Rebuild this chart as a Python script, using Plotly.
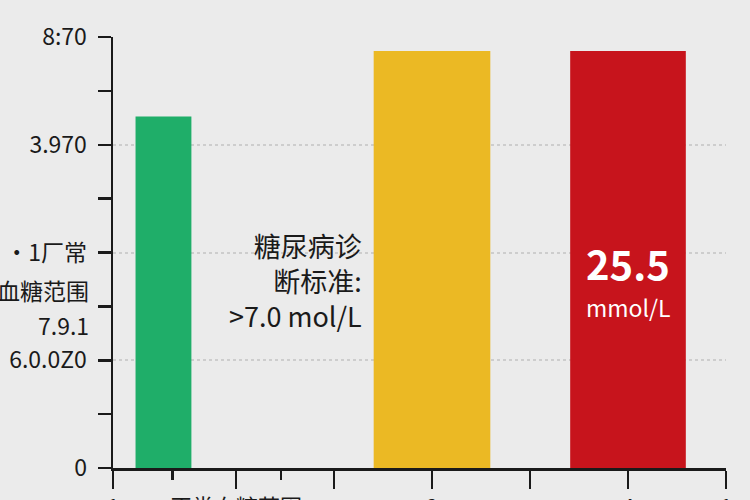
import plotly.graph_objects as go

# ---- data ----
bar_x = [-0.74, 2.0, 4.0]
bar_values = [21.5, 25.5, 25.5]
bar_widths = [0.57, 1.19, 1.18]
bar_colors = ["#1fae69", "#ebb924", "#c7141c"]

y_tick_labels = ["0", "6.0.0Z0", "·1厂常", "3.970", "8:70"]
x_tick_vals = [-1.255, 0, 1, 2, 3, 4, 5]
x_tick_labels = ["1", "正常血糖范围", "", "2", "", "4", "1"]
x_minor_vals = [-0.65, 0.46]

y_max = 25.5 * 431 / 417
y_major = [i * y_max / 4 for i in range(5)]
y_minor = [(i + 0.5) * y_max / 4 for i in range(4)]

font = "Noto Sans CJK SC, Noto Sans, sans-serif"

fig = go.Figure()
fig.add_trace(go.Bar(
    x=bar_x, y=bar_values, width=bar_widths,
    marker=dict(color=bar_colors, line=dict(width=0)),
    hoverinfo="skip",
))

fig.update_layout(
    width=750, height=500,
    margin=dict(l=113, r=24, t=37, b=32),
    paper_bgcolor="#ebebeb", plot_bgcolor="#ebebeb",
    showlegend=False,
    font=dict(family=font, color="#1a1a1a"),
    xaxis=dict(
        range=[-1.255, 5.0], automargin=False,
        tickmode="array", tickvals=x_tick_vals, ticktext=x_tick_labels,
        ticks="outside", ticklen=18, tickwidth=2.5, tickcolor="#1a1a1a",
        showline=True, linecolor="#1a1a1a", linewidth=2.5,
        showgrid=False, zeroline=False,
        tickfont=dict(size=22, family=font, color="#1a1a1a"),
        minor=dict(tickmode="array", tickvals=x_minor_vals, ticks="outside",
                   ticklen=9, tickwidth=2.5, tickcolor="#1a1a1a", showgrid=False),
    ),
    yaxis=dict(
        range=[0, y_max], automargin=False,
        tickmode="array", tickvals=y_major, ticktext=y_tick_labels,
        ticks="outside", ticklen=13, tickwidth=2.5, tickcolor="#1a1a1a",
        showline=True, linecolor="#1a1a1a", linewidth=2.5,
        showgrid=True, gridcolor="#cdcdcd", griddash="dot", gridwidth=2,
        zeroline=False, ticklabelstandoff=6,
        tickfont=dict(size=23, family=font, color="#1a1a1a"),
        minor=dict(tickmode="array", tickvals=y_minor, ticks="outside",
                   ticklen=13, tickwidth=2.5, tickcolor="#1a1a1a", showgrid=False),
    ),
)

# extra left-side labels
fig.add_annotation(xref="paper", yref="paper", x=-0.036, y=(468 - 290) / 431,
                   text="血糖范围", showarrow=False, xanchor="right", yanchor="middle",
                   font=dict(size=23, family=font, color="#1a1a1a"))
fig.add_annotation(xref="paper", yref="paper", x=-0.036, y=(468 - 325) / 431,
                   text="7.9.1", showarrow=False, xanchor="right", yanchor="middle",
                   font=dict(size=23, family=font, color="#1a1a1a"))

# diagnostic criterion note
fig.add_annotation(xref="paper", yref="paper", x=(364 - 113) / 613, y=(468 - 280) / 431,
                   text="糖尿病诊<br>断标准:<br>>7.0 mol/L", showarrow=False,
                   xanchor="right", yanchor="middle", align="right",
                   font=dict(size=27, family=font, color="#1a1a1a"))

# red bar value
fig.add_annotation(x=bar_x[2], yref="paper", y=(468 - 263) / 431,
                   text="<b>25.5</b>", showarrow=False, yanchor="middle",
                   font=dict(size=40, family=font, color="white"))
fig.add_annotation(x=bar_x[2], yref="paper", y=(468 - 307) / 431,
                   text="mmol/L", showarrow=False, yanchor="middle",
                   font=dict(size=23, family=font, color="white"))

fig.write_html("out.html", config={"displayModeBar": False, "staticPlot": True})

# remove the default page margin so the figure sits at the window's corner
with open("out.html", "r", encoding="utf-8") as f:
    html = f.read()
html = html.replace("<head>", "<head><style>html,body{margin:0;padding:0;background:#ebebeb;overflow:hidden}</style>", 1)
with open("out.html", "w", encoding="utf-8") as f:
    f.write(html)
